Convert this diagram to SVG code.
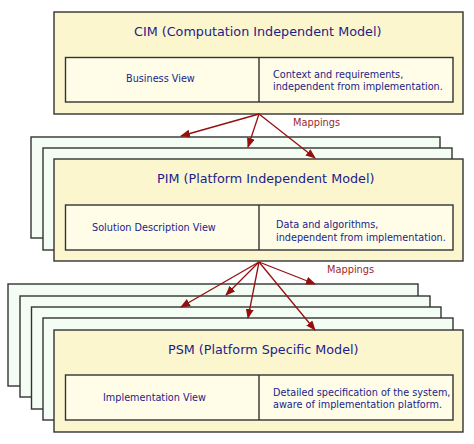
<svg xmlns="http://www.w3.org/2000/svg" width="474" height="444" viewBox="0 0 474 444">
<defs>
<style>
.outer{fill:#fcf6cf;stroke:#333;stroke-width:1.4}
.back{fill:#f3fdf3;stroke:#333;stroke-width:1.4}
.inner{fill:#fffde8;stroke:#333;stroke-width:1.4}
.div{stroke:#333;stroke-width:1.4}
.title{font-family:"DejaVu Sans",Verdana,sans-serif;font-size:12.75px;fill:#1c1c8a}
.lbl{font-family:"DejaVu Sans",Verdana,sans-serif;font-size:9.7px;fill:#1c1c8a}
.map{font-family:"DejaVu Sans",Verdana,sans-serif;font-size:9.8px;fill:#a0282a}
.arr{stroke:#960f0f;stroke-width:1.3;fill:none;marker-end:url(#ah)}
</style>
<marker id="ah" markerUnits="userSpaceOnUse" markerWidth="10" markerHeight="8" refX="9" refY="4" orient="auto" viewBox="0 0 10 8">
<path d="M0,0 L10,4 L0,8 z" fill="#960f0f"/>
</marker>
</defs>
<rect width="474" height="444" fill="#ffffff"/>

<g id="cim">
<rect class="outer" x="54" y="12" width="409" height="102"/>
<text class="title" x="134" y="35.5">CIM (Computation Independent Model)</text>
<rect class="inner" x="65.5" y="57.5" width="387.5" height="44.5"/>
<line class="div" x1="259" y1="57.5" x2="259" y2="102"/>
<text class="lbl" x="126" y="82">Business View</text>
<text class="lbl" x="273" y="78">Context and requirements,</text>
<text class="lbl" x="273" y="90">independent from implementation.</text>
</g>

<g id="pim">
<rect class="back" x="31" y="137" width="409" height="101"/>
<rect class="back" x="43" y="148" width="409" height="102"/>
<rect class="outer" x="54" y="159" width="409" height="102"/>
<text class="title" x="157" y="183">PIM (Platform Independent Model)</text>
<rect class="inner" x="65.5" y="205" width="387.5" height="45"/>
<line class="div" x1="259" y1="205" x2="259" y2="250"/>
<text class="lbl" x="92" y="231">Solution Description View</text>
<text class="lbl" x="276" y="228">Data and algorithms,</text>
<text class="lbl" x="276" y="241">independent from implementation.</text>
</g>

<g id="psm">
<rect class="back" x="8" y="284" width="410" height="102"/>
<rect class="back" x="20" y="296" width="410" height="101"/>
<rect class="back" x="31.5" y="307" width="409.5" height="102"/>
<rect class="back" x="43" y="318" width="410" height="102"/>
<rect class="outer" x="54" y="330" width="409" height="102"/>
<text class="title" x="168" y="353.5">PSM (Platform Specific Model)</text>
<rect class="inner" x="65.5" y="375" width="387.5" height="45"/>
<line class="div" x1="259" y1="375" x2="259" y2="420"/>
<text class="lbl" x="103" y="401">Implementation View</text>
<text class="lbl" x="273" y="396">Detailed specification of the system,</text>
<text class="lbl" x="273" y="408">aware of implementation platform.</text>
</g>

<g id="connectors">
<line class="arr" x1="259" y1="114" x2="181" y2="136"/>
<line class="arr" x1="259" y1="114" x2="248" y2="147"/>
<line class="arr" x1="259" y1="114" x2="315" y2="158"/>
<text class="map" x="293" y="126">Mappings</text>
<line class="arr" x1="259" y1="262" x2="315" y2="284"/>
<line class="arr" x1="259" y1="262" x2="226" y2="295"/>
<line class="arr" x1="259" y1="262" x2="181" y2="307"/>
<line class="arr" x1="259" y1="262" x2="248" y2="318"/>
<line class="arr" x1="259" y1="262" x2="315" y2="330"/>
<text class="map" x="327" y="273">Mappings</text>
</g>
</svg>
